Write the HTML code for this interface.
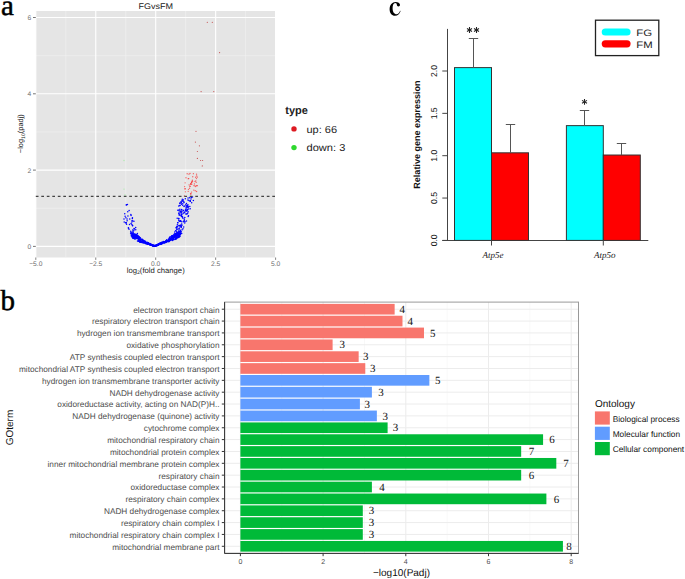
<!DOCTYPE html>
<html><head><meta charset="utf-8"><style>
html,body{margin:0;padding:0;background:#fff;}
body{width:685px;height:579px;overflow:hidden;}
svg{display:block;font-family:"Liberation Sans", sans-serif;text-rendering:geometricPrecision;}
</style></head><body>
<svg width="685" height="579" viewBox="0 0 685 579">
<rect x="35.8" y="11" width="239.8" height="246.5" fill="#E5E5E5"/>
<line x1="65.78" y1="11" x2="65.78" y2="257.5" stroke="#F2F2F2" stroke-width="0.6"/>
<line x1="125.73" y1="11" x2="125.73" y2="257.5" stroke="#F2F2F2" stroke-width="0.6"/>
<line x1="185.68" y1="11" x2="185.68" y2="257.5" stroke="#F2F2F2" stroke-width="0.6"/>
<line x1="245.62" y1="11" x2="245.62" y2="257.5" stroke="#F2F2F2" stroke-width="0.6"/>
<line x1="35.8" y1="208.25" x2="275.6" y2="208.25" stroke="#F2F2F2" stroke-width="0.6"/>
<line x1="35.8" y1="131.95" x2="275.6" y2="131.95" stroke="#F2F2F2" stroke-width="0.6"/>
<line x1="35.8" y1="55.65" x2="275.6" y2="55.65" stroke="#F2F2F2" stroke-width="0.6"/>
<line x1="35.8" y1="11" x2="35.8" y2="257.5" stroke="#FFFFFF" stroke-width="1.1"/>
<line x1="95.75" y1="11" x2="95.75" y2="257.5" stroke="#FFFFFF" stroke-width="1.1"/>
<line x1="155.7" y1="11" x2="155.7" y2="257.5" stroke="#FFFFFF" stroke-width="1.1"/>
<line x1="215.65" y1="11" x2="215.65" y2="257.5" stroke="#FFFFFF" stroke-width="1.1"/>
<line x1="275.6" y1="11" x2="275.6" y2="257.5" stroke="#FFFFFF" stroke-width="1.1"/>
<line x1="35.8" y1="246.4" x2="275.6" y2="246.4" stroke="#FFFFFF" stroke-width="1.1"/>
<line x1="35.8" y1="170.1" x2="275.6" y2="170.1" stroke="#FFFFFF" stroke-width="1.1"/>
<line x1="35.8" y1="93.8" x2="275.6" y2="93.8" stroke="#FFFFFF" stroke-width="1.1"/>
<line x1="35.8" y1="17.5" x2="275.6" y2="17.5" stroke="#FFFFFF" stroke-width="1.1"/>
<g fill="#0000FF"><circle cx="150.53" cy="244.97" r="0.75"/><circle cx="146.28" cy="243.77" r="0.75"/><circle cx="147.92" cy="243.79" r="0.75"/><circle cx="154.07" cy="245.73" r="0.75"/><circle cx="154.3" cy="245.89" r="0.75"/><circle cx="153.78" cy="246.06" r="0.75"/><circle cx="149.57" cy="243.65" r="0.75"/><circle cx="153.13" cy="245.72" r="0.75"/><circle cx="147.09" cy="242.46" r="0.75"/><circle cx="147.41" cy="243.56" r="0.75"/><circle cx="142.07" cy="242.53" r="0.75"/><circle cx="143.76" cy="242.54" r="0.75"/><circle cx="152.83" cy="245.74" r="0.75"/><circle cx="151.02" cy="244.23" r="0.75"/><circle cx="152.54" cy="245.1" r="0.75"/><circle cx="146.61" cy="243.33" r="0.75"/><circle cx="147.61" cy="244.2" r="0.75"/><circle cx="153.95" cy="246" r="0.75"/><circle cx="146.12" cy="243.06" r="0.75"/><circle cx="150.85" cy="244.48" r="0.75"/><circle cx="148.95" cy="244.24" r="0.75"/><circle cx="144.84" cy="242.06" r="0.75"/><circle cx="151.73" cy="244.82" r="0.75"/><circle cx="148.33" cy="243.08" r="0.75"/><circle cx="145.41" cy="243.09" r="0.75"/><circle cx="142.07" cy="242.37" r="0.75"/><circle cx="149.61" cy="243.77" r="0.75"/><circle cx="152.87" cy="245.33" r="0.75"/><circle cx="154.35" cy="245.68" r="0.75"/><circle cx="145.14" cy="242.43" r="0.75"/><circle cx="143.55" cy="242.42" r="0.75"/><circle cx="146.03" cy="242.71" r="0.75"/><circle cx="147.41" cy="243.46" r="0.75"/><circle cx="144.43" cy="241.39" r="0.75"/><circle cx="148.86" cy="243.63" r="0.75"/><circle cx="154.09" cy="245.54" r="0.75"/><circle cx="146.87" cy="242.28" r="0.75"/><circle cx="144.22" cy="242.7" r="0.75"/><circle cx="149.98" cy="244.04" r="0.75"/><circle cx="154.5" cy="245.93" r="0.75"/><circle cx="152.52" cy="245.64" r="0.75"/><circle cx="154.14" cy="245.49" r="0.75"/><circle cx="153.07" cy="245.67" r="0.75"/><circle cx="150.01" cy="243.75" r="0.75"/><circle cx="153.76" cy="245.68" r="0.75"/><circle cx="148.03" cy="242.95" r="0.75"/><circle cx="144.63" cy="241.64" r="0.75"/><circle cx="151.23" cy="244.85" r="0.75"/><circle cx="150.42" cy="243.9" r="0.75"/><circle cx="142.39" cy="242.4" r="0.75"/><circle cx="152.46" cy="245.49" r="0.75"/><circle cx="151.83" cy="244.97" r="0.75"/><circle cx="147.19" cy="243.72" r="0.75"/><circle cx="154.72" cy="246.05" r="0.75"/><circle cx="150.14" cy="244.25" r="0.75"/><circle cx="142.83" cy="241.33" r="0.75"/><circle cx="148.31" cy="243.51" r="0.75"/><circle cx="145.95" cy="243.7" r="0.75"/><circle cx="143.57" cy="241.41" r="0.75"/><circle cx="143.9" cy="241.49" r="0.75"/><circle cx="149.77" cy="244.37" r="0.75"/><circle cx="153.53" cy="245.41" r="0.75"/><circle cx="153.87" cy="246.11" r="0.75"/><circle cx="152.02" cy="245.43" r="0.75"/><circle cx="150.28" cy="245.03" r="0.75"/><circle cx="154.69" cy="246.29" r="0.75"/><circle cx="153.47" cy="245.67" r="0.75"/><circle cx="154.59" cy="245.56" r="0.75"/><circle cx="146.8" cy="243.8" r="0.75"/><circle cx="151.53" cy="245.04" r="0.75"/><circle cx="150" cy="244.84" r="0.75"/><circle cx="144.35" cy="241.25" r="0.75"/><circle cx="148.87" cy="243.93" r="0.75"/><circle cx="153.58" cy="245.99" r="0.75"/><circle cx="150.34" cy="244.75" r="0.75"/><circle cx="144.05" cy="242.9" r="0.75"/><circle cx="154.64" cy="245.51" r="0.75"/><circle cx="147.9" cy="244.15" r="0.75"/><circle cx="147.65" cy="244.27" r="0.75"/><circle cx="148.35" cy="242.91" r="0.75"/><circle cx="143.97" cy="241.74" r="0.75"/><circle cx="151.43" cy="244.98" r="0.75"/><circle cx="152.78" cy="244.97" r="0.75"/><circle cx="148.18" cy="243.19" r="0.75"/><circle cx="150.49" cy="244.86" r="0.75"/><circle cx="144.81" cy="241.46" r="0.75"/><circle cx="144.18" cy="241.58" r="0.75"/><circle cx="144.56" cy="241.87" r="0.75"/><circle cx="151.93" cy="244.96" r="0.75"/><circle cx="150.07" cy="245" r="0.75"/><circle cx="154.38" cy="246.06" r="0.75"/><circle cx="151.59" cy="244.61" r="0.75"/><circle cx="142.61" cy="241.8" r="0.75"/><circle cx="143.24" cy="240.81" r="0.75"/><circle cx="142.57" cy="241.98" r="0.75"/><circle cx="151.89" cy="245.31" r="0.75"/><circle cx="152.19" cy="245.43" r="0.75"/><circle cx="147.1" cy="242.55" r="0.75"/><circle cx="144.11" cy="242.26" r="0.75"/><circle cx="146.68" cy="242.57" r="0.75"/><circle cx="153.78" cy="245.47" r="0.75"/><circle cx="143.44" cy="241.35" r="0.75"/><circle cx="145.26" cy="242.66" r="0.75"/><circle cx="152.64" cy="244.89" r="0.75"/><circle cx="150.71" cy="244.13" r="0.75"/><circle cx="142.38" cy="241.84" r="0.75"/><circle cx="149.91" cy="243.6" r="0.75"/><circle cx="145.39" cy="243.31" r="0.75"/><circle cx="153.06" cy="245.77" r="0.75"/><circle cx="143.52" cy="241.33" r="0.75"/><circle cx="153.06" cy="245.01" r="0.75"/><circle cx="142.46" cy="241.27" r="0.75"/><circle cx="150.37" cy="244.36" r="0.75"/><circle cx="152.97" cy="245.89" r="0.75"/><circle cx="142.58" cy="241.33" r="0.75"/><circle cx="148.34" cy="242.99" r="0.75"/><circle cx="149.47" cy="243.54" r="0.75"/><circle cx="144.12" cy="242.82" r="0.75"/><circle cx="151.52" cy="245.1" r="0.75"/><circle cx="151.78" cy="244.82" r="0.75"/><circle cx="135.04" cy="237.22" r="0.75"/><circle cx="136.44" cy="237.6" r="0.75"/><circle cx="139.83" cy="241.88" r="0.75"/><circle cx="138.62" cy="238.31" r="0.75"/><circle cx="133.75" cy="237.75" r="0.75"/><circle cx="136.02" cy="238.18" r="0.75"/><circle cx="139.42" cy="240.73" r="0.75"/><circle cx="134.88" cy="235.86" r="0.75"/><circle cx="139.51" cy="240.5" r="0.75"/><circle cx="140.27" cy="238.05" r="0.75"/><circle cx="138.78" cy="239.85" r="0.75"/><circle cx="137.89" cy="238.32" r="0.75"/><circle cx="141.55" cy="241.61" r="0.75"/><circle cx="133" cy="237.44" r="0.75"/><circle cx="132.27" cy="235.51" r="0.75"/><circle cx="142.8" cy="241.81" r="0.75"/><circle cx="137.09" cy="237.88" r="0.75"/><circle cx="133.59" cy="237.34" r="0.75"/><circle cx="138.83" cy="236.46" r="0.75"/><circle cx="134.1" cy="236.26" r="0.75"/><circle cx="139.4" cy="237.43" r="0.75"/><circle cx="140.43" cy="238.12" r="0.75"/><circle cx="142.87" cy="242.53" r="0.75"/><circle cx="132.75" cy="235.75" r="0.75"/><circle cx="135.2" cy="234.44" r="0.75"/><circle cx="139.64" cy="239.92" r="0.75"/><circle cx="132.52" cy="233.75" r="0.75"/><circle cx="140.59" cy="240.9" r="0.75"/><circle cx="137.92" cy="236.46" r="0.75"/><circle cx="135.16" cy="234.44" r="0.75"/><circle cx="132.82" cy="234.75" r="0.75"/><circle cx="131.95" cy="235.14" r="0.75"/><circle cx="135.82" cy="236.13" r="0.75"/><circle cx="134" cy="237.76" r="0.75"/><circle cx="138.53" cy="241.21" r="0.75"/><circle cx="137.02" cy="238.06" r="0.75"/><circle cx="141.66" cy="239.31" r="0.75"/><circle cx="137.19" cy="236.54" r="0.75"/><circle cx="132" cy="234.45" r="0.75"/><circle cx="134.98" cy="234.77" r="0.75"/><circle cx="135.37" cy="235.53" r="0.75"/><circle cx="135.54" cy="237.61" r="0.75"/><circle cx="133.53" cy="237.48" r="0.75"/><circle cx="135.78" cy="236.62" r="0.75"/><circle cx="138.22" cy="238.03" r="0.75"/><circle cx="134.17" cy="238.05" r="0.75"/><circle cx="131.27" cy="235.74" r="0.75"/><circle cx="132.53" cy="237.04" r="0.75"/><circle cx="131.82" cy="233.42" r="0.75"/><circle cx="135.7" cy="235.43" r="0.75"/><circle cx="139.87" cy="238.28" r="0.75"/><circle cx="142.31" cy="239.51" r="0.75"/><circle cx="141.8" cy="241.64" r="0.75"/><circle cx="136.96" cy="236.33" r="0.75"/><circle cx="141.92" cy="239.37" r="0.75"/><circle cx="142.06" cy="241" r="0.75"/><circle cx="133.26" cy="238.23" r="0.75"/><circle cx="138.66" cy="241.22" r="0.75"/><circle cx="143.11" cy="241.13" r="0.75"/><circle cx="139.84" cy="241.77" r="0.75"/><circle cx="141.31" cy="239.86" r="0.75"/><circle cx="133.17" cy="236.66" r="0.75"/><circle cx="139.47" cy="239.23" r="0.75"/><circle cx="140.47" cy="239.73" r="0.75"/><circle cx="143.01" cy="240.38" r="0.75"/><circle cx="138.64" cy="238.34" r="0.75"/><circle cx="132.3" cy="235.75" r="0.75"/><circle cx="142.15" cy="242.57" r="0.75"/><circle cx="138.51" cy="236.87" r="0.75"/><circle cx="138.29" cy="239.76" r="0.75"/><circle cx="133.38" cy="235.64" r="0.75"/><circle cx="132.1" cy="235.78" r="0.75"/><circle cx="141.15" cy="239.84" r="0.75"/><circle cx="138.84" cy="237.66" r="0.75"/><circle cx="137.85" cy="235.78" r="0.75"/><circle cx="134.32" cy="238.78" r="0.75"/><circle cx="133.3" cy="238.23" r="0.75"/><circle cx="137.87" cy="236.1" r="0.75"/><circle cx="133.28" cy="236.5" r="0.75"/><circle cx="136.71" cy="236.97" r="0.75"/><circle cx="136.54" cy="237.31" r="0.75"/><circle cx="134.89" cy="235.75" r="0.75"/><circle cx="144.29" cy="240.99" r="0.75"/><circle cx="140.54" cy="241.97" r="0.75"/><circle cx="138.19" cy="236.5" r="0.75"/><circle cx="139.45" cy="236.99" r="0.75"/><circle cx="133.68" cy="234.75" r="0.75"/><circle cx="134.05" cy="234.07" r="0.75"/><circle cx="134.74" cy="235.68" r="0.75"/><circle cx="139.63" cy="241.72" r="0.75"/><circle cx="137.33" cy="238.23" r="0.75"/><circle cx="136.78" cy="236.45" r="0.75"/><circle cx="132.12" cy="235.86" r="0.75"/><circle cx="138.65" cy="239.24" r="0.75"/><circle cx="135.21" cy="235.59" r="0.75"/><circle cx="137.12" cy="237.48" r="0.75"/><circle cx="145.32" cy="241.35" r="0.75"/><circle cx="143.42" cy="241.41" r="0.75"/><circle cx="132.81" cy="234.68" r="0.75"/><circle cx="138.93" cy="239.75" r="0.75"/><circle cx="140.78" cy="240.54" r="0.75"/><circle cx="137.97" cy="238.49" r="0.75"/><circle cx="133.09" cy="235.62" r="0.75"/><circle cx="140.62" cy="239.91" r="0.75"/><circle cx="132.86" cy="233.88" r="0.75"/><circle cx="138.96" cy="238.8" r="0.75"/><circle cx="136.94" cy="235.35" r="0.75"/><circle cx="135.66" cy="237.62" r="0.75"/><circle cx="134.67" cy="235.57" r="0.75"/><circle cx="138.57" cy="239.67" r="0.75"/><circle cx="137.42" cy="235.67" r="0.75"/><circle cx="141.08" cy="242.08" r="0.75"/><circle cx="136.2" cy="237.24" r="0.75"/><circle cx="143" cy="240.3" r="0.75"/><circle cx="134.51" cy="237.2" r="0.75"/><circle cx="141.05" cy="242.31" r="0.75"/><circle cx="133.37" cy="236.98" r="0.75"/><circle cx="133.3" cy="233.7" r="0.75"/><circle cx="132.09" cy="236.98" r="0.75"/><circle cx="144.49" cy="241.68" r="0.75"/><circle cx="136.73" cy="236.38" r="0.75"/><circle cx="135.34" cy="236.57" r="0.75"/><circle cx="134.06" cy="236.7" r="0.75"/><circle cx="131.72" cy="233.8" r="0.75"/><circle cx="142.26" cy="241.83" r="0.75"/><circle cx="136.22" cy="235.81" r="0.75"/><circle cx="135.88" cy="235.85" r="0.75"/><circle cx="134.66" cy="237.76" r="0.75"/><circle cx="136.92" cy="235.61" r="0.75"/><circle cx="137.56" cy="237.94" r="0.75"/><circle cx="143.08" cy="240.29" r="0.75"/><circle cx="143.38" cy="240.62" r="0.75"/><circle cx="135.93" cy="236.67" r="0.75"/><circle cx="134.67" cy="237.2" r="0.75"/><circle cx="140.38" cy="239.67" r="0.75"/><circle cx="142.27" cy="241.33" r="0.75"/><circle cx="134.86" cy="235.56" r="0.75"/><circle cx="138.23" cy="241.06" r="0.75"/><circle cx="143.64" cy="241.98" r="0.75"/><circle cx="131.8" cy="236.02" r="0.75"/><circle cx="132.96" cy="235.02" r="0.75"/><circle cx="140.02" cy="239.15" r="0.75"/><circle cx="134.42" cy="236.74" r="0.75"/><circle cx="133.29" cy="235.16" r="0.75"/><circle cx="134.97" cy="238.95" r="0.75"/><circle cx="135.82" cy="235.15" r="0.75"/><circle cx="132.14" cy="234.17" r="0.75"/><circle cx="137.05" cy="238.48" r="0.75"/><circle cx="137.26" cy="235.92" r="0.75"/><circle cx="135.82" cy="238.64" r="0.75"/><circle cx="136.49" cy="237.2" r="0.75"/><circle cx="136.58" cy="235.09" r="0.75"/><circle cx="137.47" cy="241.08" r="0.75"/><circle cx="140.68" cy="241.93" r="0.75"/><circle cx="136.69" cy="238.04" r="0.75"/><circle cx="133.36" cy="235.92" r="0.75"/><circle cx="132.81" cy="237.91" r="0.75"/><circle cx="143.11" cy="242.48" r="0.75"/><circle cx="134.12" cy="234.42" r="0.75"/><circle cx="134.43" cy="237.04" r="0.75"/><circle cx="130.86" cy="214.62" r="0.75"/><circle cx="132.07" cy="220.53" r="0.75"/><circle cx="129.5" cy="224.39" r="0.75"/><circle cx="132.36" cy="218.38" r="0.75"/><circle cx="134.5" cy="228.69" r="0.75"/><circle cx="125.86" cy="217.8" r="0.75"/><circle cx="125.1" cy="216.29" r="0.75"/><circle cx="129.74" cy="219.11" r="0.75"/><circle cx="134.06" cy="228.61" r="0.75"/><circle cx="124" cy="218.89" r="0.75"/><circle cx="134.03" cy="229.93" r="0.75"/><circle cx="137.36" cy="233.52" r="0.75"/><circle cx="134.87" cy="234.04" r="0.75"/><circle cx="128.39" cy="227.84" r="0.75"/><circle cx="130.63" cy="233.66" r="0.75"/><circle cx="127.09" cy="218.96" r="0.75"/><circle cx="133.26" cy="232.79" r="0.75"/><circle cx="131.05" cy="223.59" r="0.75"/><circle cx="131.78" cy="232.33" r="0.75"/><circle cx="129.03" cy="229.32" r="0.75"/><circle cx="128.53" cy="228.14" r="0.75"/><circle cx="131.87" cy="224.56" r="0.75"/><circle cx="125.41" cy="222.87" r="0.75"/><circle cx="130.79" cy="232.79" r="0.75"/><circle cx="126.56" cy="224.19" r="0.75"/><circle cx="124.77" cy="213.68" r="0.75"/><circle cx="131.84" cy="221.91" r="0.75"/><circle cx="132.43" cy="217.86" r="0.75"/><circle cx="132.65" cy="231.93" r="0.75"/><circle cx="129.15" cy="210.38" r="0.75"/><circle cx="132.75" cy="220.96" r="0.75"/><circle cx="131.07" cy="215.41" r="0.75"/><circle cx="126.15" cy="222.59" r="0.75"/><circle cx="132.7" cy="229.88" r="0.75"/><circle cx="127.78" cy="211.66" r="0.75"/><circle cx="135.7" cy="227.45" r="0.75"/><circle cx="126.54" cy="204.74" r="0.75"/><circle cx="133.49" cy="231.01" r="0.75"/><circle cx="127.14" cy="220.66" r="0.75"/><circle cx="132.53" cy="225.6" r="0.75"/><circle cx="133.92" cy="221.25" r="0.75"/><circle cx="126.34" cy="223.1" r="0.75"/><circle cx="132.58" cy="225.74" r="0.75"/><circle cx="124.17" cy="221.96" r="0.75"/><circle cx="136.73" cy="234.52" r="0.75"/><circle cx="126.24" cy="204.97" r="0.75"/><circle cx="135.75" cy="229.83" r="0.75"/><circle cx="127.45" cy="204.55" r="0.75"/><circle cx="127.92" cy="216.04" r="0.75"/><circle cx="130.66" cy="231.22" r="0.75"/><circle cx="155.2" cy="245.75" r="0.75"/><circle cx="161.02" cy="243.88" r="0.75"/><circle cx="159.72" cy="244.28" r="0.75"/><circle cx="162.11" cy="242.52" r="0.75"/><circle cx="166.47" cy="240.32" r="0.75"/><circle cx="165.95" cy="240.73" r="0.75"/><circle cx="154.72" cy="245.75" r="0.75"/><circle cx="165.74" cy="242.49" r="0.75"/><circle cx="154.86" cy="245.97" r="0.75"/><circle cx="161.8" cy="243.62" r="0.75"/><circle cx="157.36" cy="244.94" r="0.75"/><circle cx="159.79" cy="244.43" r="0.75"/><circle cx="158.63" cy="245.02" r="0.75"/><circle cx="158.61" cy="244.05" r="0.75"/><circle cx="164.52" cy="242.01" r="0.75"/><circle cx="156.38" cy="245.5" r="0.75"/><circle cx="156.03" cy="245.8" r="0.75"/><circle cx="164.69" cy="242.5" r="0.75"/><circle cx="163.43" cy="242.19" r="0.75"/><circle cx="160.32" cy="243.58" r="0.75"/><circle cx="166.85" cy="240.14" r="0.75"/><circle cx="166.78" cy="240.03" r="0.75"/><circle cx="157.56" cy="244.57" r="0.75"/><circle cx="167.33" cy="240.87" r="0.75"/><circle cx="160.27" cy="244.33" r="0.75"/><circle cx="158.03" cy="244.63" r="0.75"/><circle cx="162.34" cy="243.34" r="0.75"/><circle cx="165.37" cy="241.96" r="0.75"/><circle cx="159.56" cy="243.8" r="0.75"/><circle cx="157.1" cy="245.46" r="0.75"/><circle cx="164.16" cy="242.62" r="0.75"/><circle cx="157.13" cy="244.97" r="0.75"/><circle cx="165.61" cy="241.73" r="0.75"/><circle cx="156.54" cy="245.24" r="0.75"/><circle cx="166.9" cy="240.46" r="0.75"/><circle cx="157.38" cy="244.7" r="0.75"/><circle cx="164.81" cy="242.57" r="0.75"/><circle cx="156.81" cy="244.77" r="0.75"/><circle cx="158.16" cy="244.4" r="0.75"/><circle cx="161.86" cy="242.53" r="0.75"/><circle cx="159.21" cy="243.75" r="0.75"/><circle cx="168.54" cy="240.9" r="0.75"/><circle cx="156.39" cy="245.85" r="0.75"/><circle cx="156.17" cy="245.31" r="0.75"/><circle cx="168.72" cy="240.99" r="0.75"/><circle cx="164.95" cy="241.71" r="0.75"/><circle cx="157.59" cy="245.03" r="0.75"/><circle cx="156.17" cy="245.11" r="0.75"/><circle cx="159.95" cy="243.19" r="0.75"/><circle cx="160.5" cy="244.1" r="0.75"/><circle cx="164.44" cy="242.05" r="0.75"/><circle cx="163.57" cy="242.34" r="0.75"/><circle cx="156.81" cy="245.29" r="0.75"/><circle cx="160.55" cy="244.01" r="0.75"/><circle cx="167.37" cy="240.69" r="0.75"/><circle cx="162.93" cy="243.11" r="0.75"/><circle cx="160.51" cy="243.24" r="0.75"/><circle cx="165.1" cy="242.53" r="0.75"/><circle cx="165.7" cy="241.94" r="0.75"/><circle cx="166.79" cy="241.47" r="0.75"/><circle cx="163.69" cy="242.27" r="0.75"/><circle cx="159.21" cy="244.37" r="0.75"/><circle cx="156.13" cy="245.37" r="0.75"/><circle cx="165.83" cy="241.92" r="0.75"/><circle cx="163.39" cy="242.02" r="0.75"/><circle cx="160.66" cy="243.53" r="0.75"/><circle cx="163.38" cy="242.31" r="0.75"/><circle cx="164.48" cy="242.86" r="0.75"/><circle cx="157.41" cy="245.12" r="0.75"/><circle cx="165.54" cy="241.37" r="0.75"/><circle cx="161.88" cy="243.88" r="0.75"/><circle cx="155.35" cy="245.82" r="0.75"/><circle cx="157.15" cy="245.37" r="0.75"/><circle cx="167.89" cy="240.68" r="0.75"/><circle cx="156.23" cy="245.49" r="0.75"/><circle cx="162.45" cy="243.24" r="0.75"/><circle cx="162" cy="243.28" r="0.75"/><circle cx="166.34" cy="241.31" r="0.75"/><circle cx="160.75" cy="244.25" r="0.75"/><circle cx="157.8" cy="245" r="0.75"/><circle cx="160.4" cy="244.1" r="0.75"/><circle cx="156.69" cy="245.77" r="0.75"/><circle cx="159.51" cy="243.42" r="0.75"/><circle cx="158.57" cy="244.32" r="0.75"/><circle cx="154.96" cy="245.86" r="0.75"/><circle cx="160.75" cy="243.87" r="0.75"/><circle cx="159.57" cy="243.7" r="0.75"/><circle cx="158.03" cy="244.98" r="0.75"/><circle cx="167.89" cy="240.7" r="0.75"/><circle cx="157.98" cy="245.08" r="0.75"/><circle cx="160.1" cy="243.39" r="0.75"/><circle cx="156.71" cy="245.53" r="0.75"/><circle cx="166.15" cy="241.63" r="0.75"/><circle cx="161.36" cy="243.41" r="0.75"/><circle cx="158.15" cy="245.22" r="0.75"/><circle cx="159.78" cy="244.16" r="0.75"/><circle cx="166.42" cy="241.91" r="0.75"/><circle cx="161.19" cy="243.05" r="0.75"/><circle cx="162.19" cy="242.32" r="0.75"/><circle cx="166.28" cy="240.98" r="0.75"/><circle cx="166.45" cy="240.72" r="0.75"/><circle cx="159.9" cy="243.54" r="0.75"/><circle cx="160.55" cy="243.15" r="0.75"/><circle cx="154.91" cy="246.17" r="0.75"/><circle cx="158.59" cy="244.1" r="0.75"/><circle cx="158.99" cy="244.26" r="0.75"/><circle cx="160.83" cy="243.74" r="0.75"/><circle cx="163.87" cy="242.02" r="0.75"/><circle cx="167.99" cy="241.4" r="0.75"/><circle cx="155.71" cy="245.96" r="0.75"/><circle cx="167.61" cy="241.38" r="0.75"/><circle cx="156.89" cy="245.53" r="0.75"/><circle cx="163.29" cy="241.62" r="0.75"/><circle cx="155.11" cy="246.31" r="0.75"/><circle cx="163.75" cy="241.86" r="0.75"/><circle cx="156.07" cy="245.09" r="0.75"/><circle cx="158.17" cy="244.97" r="0.75"/><circle cx="159.44" cy="243.6" r="0.75"/><circle cx="167.6" cy="241.41" r="0.75"/><circle cx="157.3" cy="245.44" r="0.75"/><circle cx="163.44" cy="242.97" r="0.75"/><circle cx="164.35" cy="242.83" r="0.75"/><circle cx="166" cy="242.11" r="0.75"/><circle cx="157.63" cy="245.08" r="0.75"/><circle cx="162.32" cy="243.33" r="0.75"/><circle cx="161.11" cy="244.02" r="0.75"/><circle cx="162.37" cy="242.48" r="0.75"/><circle cx="157.89" cy="244.27" r="0.75"/><circle cx="161.4" cy="242.56" r="0.75"/><circle cx="161.09" cy="242.85" r="0.75"/><circle cx="174.39" cy="236.48" r="0.75"/><circle cx="168.09" cy="240.25" r="0.75"/><circle cx="174.08" cy="237.19" r="0.75"/><circle cx="172.87" cy="235.61" r="0.75"/><circle cx="180.49" cy="231.83" r="0.75"/><circle cx="176.28" cy="238" r="0.75"/><circle cx="174.64" cy="236.33" r="0.75"/><circle cx="179.67" cy="231.37" r="0.75"/><circle cx="177.34" cy="237.88" r="0.75"/><circle cx="172.4" cy="240.48" r="0.75"/><circle cx="172.76" cy="236.22" r="0.75"/><circle cx="174.83" cy="239.48" r="0.75"/><circle cx="173.49" cy="237.09" r="0.75"/><circle cx="178.75" cy="234.22" r="0.75"/><circle cx="178.76" cy="235.44" r="0.75"/><circle cx="174.55" cy="233.99" r="0.75"/><circle cx="171.89" cy="237.45" r="0.75"/><circle cx="168.52" cy="238.95" r="0.75"/><circle cx="176.02" cy="237.89" r="0.75"/><circle cx="177.05" cy="237.56" r="0.75"/><circle cx="176.85" cy="233.34" r="0.75"/><circle cx="176.67" cy="236.04" r="0.75"/><circle cx="177.91" cy="232.11" r="0.75"/><circle cx="176.52" cy="235.06" r="0.75"/><circle cx="175.31" cy="233.84" r="0.75"/><circle cx="171.93" cy="235.64" r="0.75"/><circle cx="172.14" cy="235.74" r="0.75"/><circle cx="178.53" cy="237.33" r="0.75"/><circle cx="179.94" cy="235.91" r="0.75"/><circle cx="176.38" cy="233.34" r="0.75"/><circle cx="169.15" cy="240.57" r="0.75"/><circle cx="177.35" cy="233.66" r="0.75"/><circle cx="177.54" cy="233.06" r="0.75"/><circle cx="168.65" cy="239.51" r="0.75"/><circle cx="176.17" cy="238.8" r="0.75"/><circle cx="178.63" cy="231.88" r="0.75"/><circle cx="172.04" cy="239.02" r="0.75"/><circle cx="170.16" cy="240.47" r="0.75"/><circle cx="172.78" cy="237.32" r="0.75"/><circle cx="173.7" cy="238.45" r="0.75"/><circle cx="169.88" cy="239.77" r="0.75"/><circle cx="172.72" cy="238.09" r="0.75"/><circle cx="176.19" cy="235.6" r="0.75"/><circle cx="173.01" cy="239.65" r="0.75"/><circle cx="175.37" cy="234.22" r="0.75"/><circle cx="168.79" cy="241.71" r="0.75"/><circle cx="172.32" cy="237.66" r="0.75"/><circle cx="175.81" cy="234.39" r="0.75"/><circle cx="172.9" cy="238.53" r="0.75"/><circle cx="178.5" cy="234.12" r="0.75"/><circle cx="173.49" cy="237.45" r="0.75"/><circle cx="168.55" cy="240.17" r="0.75"/><circle cx="175.43" cy="234.01" r="0.75"/><circle cx="170.61" cy="239.25" r="0.75"/><circle cx="180.11" cy="233.57" r="0.75"/><circle cx="175.89" cy="238.45" r="0.75"/><circle cx="171.31" cy="239.26" r="0.75"/><circle cx="178.29" cy="236.06" r="0.75"/><circle cx="169.14" cy="239.87" r="0.75"/><circle cx="178.04" cy="233.56" r="0.75"/><circle cx="179.51" cy="236.74" r="0.75"/><circle cx="174.2" cy="237.48" r="0.75"/><circle cx="170.35" cy="238.71" r="0.75"/><circle cx="172.72" cy="237.21" r="0.75"/><circle cx="173.23" cy="236.69" r="0.75"/><circle cx="169.38" cy="237.96" r="0.75"/><circle cx="178.24" cy="232.72" r="0.75"/><circle cx="175.76" cy="234.79" r="0.75"/><circle cx="179.26" cy="236.35" r="0.75"/><circle cx="175.37" cy="233.88" r="0.75"/><circle cx="178.13" cy="235.69" r="0.75"/><circle cx="179.83" cy="231.71" r="0.75"/><circle cx="175.77" cy="235.37" r="0.75"/><circle cx="171.34" cy="237.21" r="0.75"/><circle cx="176.71" cy="235.32" r="0.75"/><circle cx="176.8" cy="234.29" r="0.75"/><circle cx="175.69" cy="239.34" r="0.75"/><circle cx="177.32" cy="233.15" r="0.75"/><circle cx="168.47" cy="241.2" r="0.75"/><circle cx="169.26" cy="241.22" r="0.75"/><circle cx="173.88" cy="234.74" r="0.75"/><circle cx="178.7" cy="236.25" r="0.75"/><circle cx="177.28" cy="237.09" r="0.75"/><circle cx="169.88" cy="240.58" r="0.75"/><circle cx="178.91" cy="234.68" r="0.75"/><circle cx="168.74" cy="240.85" r="0.75"/><circle cx="176.69" cy="233.32" r="0.75"/><circle cx="174.21" cy="234.15" r="0.75"/><circle cx="179.65" cy="231.63" r="0.75"/><circle cx="177.44" cy="234.23" r="0.75"/><circle cx="178.49" cy="234.75" r="0.75"/><circle cx="178.82" cy="236.79" r="0.75"/><circle cx="179.86" cy="233.4" r="0.75"/><circle cx="170.34" cy="239.47" r="0.75"/><circle cx="177.25" cy="233.16" r="0.75"/><circle cx="175.91" cy="236.45" r="0.75"/><circle cx="175.96" cy="238.79" r="0.75"/><circle cx="178.55" cy="237.41" r="0.75"/><circle cx="177.53" cy="235.49" r="0.75"/><circle cx="178.54" cy="234.69" r="0.75"/><circle cx="179.83" cy="236.24" r="0.75"/><circle cx="179.34" cy="233.93" r="0.75"/><circle cx="170.42" cy="240.15" r="0.75"/><circle cx="172.83" cy="237.54" r="0.75"/><circle cx="173.79" cy="236.67" r="0.75"/><circle cx="169.57" cy="238.86" r="0.75"/><circle cx="172.17" cy="238.82" r="0.75"/><circle cx="172.96" cy="239.26" r="0.75"/><circle cx="168.8" cy="240.6" r="0.75"/><circle cx="174.67" cy="236.84" r="0.75"/><circle cx="180.58" cy="233.46" r="0.75"/><circle cx="171.26" cy="239.99" r="0.75"/><circle cx="177.09" cy="233.15" r="0.75"/><circle cx="175.49" cy="236.75" r="0.75"/><circle cx="174.42" cy="236.51" r="0.75"/><circle cx="169.91" cy="237.3" r="0.75"/><circle cx="177.71" cy="232.81" r="0.75"/><circle cx="173.05" cy="235.63" r="0.75"/><circle cx="178.92" cy="236.78" r="0.75"/><circle cx="178.1" cy="234.72" r="0.75"/><circle cx="176.22" cy="235.01" r="0.75"/><circle cx="173.63" cy="236.55" r="0.75"/><circle cx="179.5" cy="231.38" r="0.75"/><circle cx="176.34" cy="233.92" r="0.75"/><circle cx="176.82" cy="234.01" r="0.75"/><circle cx="176.08" cy="233.76" r="0.75"/><circle cx="174.76" cy="235.77" r="0.75"/><circle cx="180.36" cy="234.16" r="0.75"/><circle cx="171.97" cy="238.12" r="0.75"/><circle cx="169.56" cy="237.54" r="0.75"/><circle cx="171.49" cy="236.13" r="0.75"/><circle cx="175.41" cy="238.15" r="0.75"/><circle cx="170.62" cy="238.81" r="0.75"/><circle cx="173.99" cy="237.03" r="0.75"/><circle cx="175.97" cy="236.16" r="0.75"/><circle cx="170.88" cy="236.64" r="0.75"/><circle cx="172.98" cy="237.44" r="0.75"/><circle cx="179.2" cy="233.62" r="0.75"/><circle cx="175.24" cy="236.41" r="0.75"/><circle cx="171.84" cy="239.49" r="0.75"/><circle cx="179.33" cy="235.84" r="0.75"/><circle cx="173.72" cy="239.09" r="0.75"/><circle cx="172.58" cy="238.43" r="0.75"/><circle cx="178.68" cy="236.7" r="0.75"/><circle cx="177.88" cy="236.23" r="0.75"/><circle cx="179.89" cy="232.4" r="0.75"/><circle cx="177.95" cy="237.44" r="0.75"/><circle cx="175.44" cy="235.6" r="0.75"/><circle cx="175.9" cy="235.18" r="0.75"/><circle cx="173.88" cy="236.04" r="0.75"/><circle cx="177.4" cy="234.22" r="0.75"/><circle cx="173.08" cy="237.11" r="0.75"/><circle cx="174.49" cy="235.88" r="0.75"/><circle cx="169.88" cy="237.33" r="0.75"/><circle cx="179.96" cy="234.56" r="0.75"/><circle cx="180.46" cy="233.25" r="0.75"/><circle cx="175.34" cy="236.47" r="0.75"/><circle cx="174.73" cy="236.69" r="0.75"/><circle cx="176.91" cy="235.28" r="0.75"/><circle cx="172.65" cy="237.54" r="0.75"/><circle cx="176.79" cy="236.78" r="0.75"/><circle cx="173.21" cy="237.17" r="0.75"/><circle cx="173.72" cy="237.87" r="0.75"/><circle cx="179.55" cy="235.63" r="0.75"/><circle cx="174.65" cy="236.55" r="0.75"/><circle cx="176.19" cy="237.63" r="0.75"/><circle cx="173.35" cy="239.66" r="0.75"/><circle cx="171.99" cy="238.6" r="0.75"/><circle cx="176.69" cy="233.16" r="0.75"/><circle cx="174.47" cy="237.09" r="0.75"/><circle cx="179.55" cy="221.37" r="0.75"/><circle cx="182.31" cy="201.09" r="0.75"/><circle cx="188.93" cy="200.52" r="0.75"/><circle cx="181.22" cy="202.94" r="0.75"/><circle cx="176.39" cy="231.29" r="0.75"/><circle cx="181.13" cy="213.76" r="0.75"/><circle cx="175.54" cy="230.77" r="0.75"/><circle cx="186.28" cy="206.02" r="0.75"/><circle cx="180.48" cy="231.1" r="0.75"/><circle cx="183.7" cy="227" r="0.75"/><circle cx="177.8" cy="210.23" r="0.75"/><circle cx="181.83" cy="211.96" r="0.75"/><circle cx="176.84" cy="228.28" r="0.75"/><circle cx="179.89" cy="205.55" r="0.75"/><circle cx="187.12" cy="209.58" r="0.75"/><circle cx="187.91" cy="199.98" r="0.75"/><circle cx="190.37" cy="201.33" r="0.75"/><circle cx="181.66" cy="233.39" r="0.75"/><circle cx="178.82" cy="213.87" r="0.75"/><circle cx="185.66" cy="210.6" r="0.75"/><circle cx="181.81" cy="221.78" r="0.75"/><circle cx="180.4" cy="211.45" r="0.75"/><circle cx="177.86" cy="229.25" r="0.75"/><circle cx="181.37" cy="215.71" r="0.75"/><circle cx="188.12" cy="207.3" r="0.75"/><circle cx="187.11" cy="209.97" r="0.75"/><circle cx="179.22" cy="229.08" r="0.75"/><circle cx="186.45" cy="203.41" r="0.75"/><circle cx="188.04" cy="197.96" r="0.75"/><circle cx="180.26" cy="211.1" r="0.75"/><circle cx="180.41" cy="221.04" r="0.75"/><circle cx="188.12" cy="206.23" r="0.75"/><circle cx="187.5" cy="209.87" r="0.75"/><circle cx="176.61" cy="226.95" r="0.75"/><circle cx="181.98" cy="225.26" r="0.75"/><circle cx="186.43" cy="213.88" r="0.75"/><circle cx="187.77" cy="212.93" r="0.75"/><circle cx="189.81" cy="206.48" r="0.75"/><circle cx="184.83" cy="206.04" r="0.75"/><circle cx="181.3" cy="212.29" r="0.75"/><circle cx="187.24" cy="205.58" r="0.75"/><circle cx="177.2" cy="218.14" r="0.75"/><circle cx="190.29" cy="200.82" r="0.75"/><circle cx="181.35" cy="204.37" r="0.75"/><circle cx="183.01" cy="200.76" r="0.75"/><circle cx="183.4" cy="210.41" r="0.75"/><circle cx="182.75" cy="203.73" r="0.75"/><circle cx="174.66" cy="231.89" r="0.75"/><circle cx="186.9" cy="206.1" r="0.75"/><circle cx="177.7" cy="226.69" r="0.75"/><circle cx="188.6" cy="209.01" r="0.75"/><circle cx="190.18" cy="208.76" r="0.75"/><circle cx="183.99" cy="202.48" r="0.75"/><circle cx="184.28" cy="212.66" r="0.75"/><circle cx="191.68" cy="202.75" r="0.75"/><circle cx="182.92" cy="218.15" r="0.75"/><circle cx="186.07" cy="207.87" r="0.75"/><circle cx="186.8" cy="207.95" r="0.75"/><circle cx="191.32" cy="197.47" r="0.75"/><circle cx="187.39" cy="213.67" r="0.75"/><circle cx="187.05" cy="210.76" r="0.75"/><circle cx="182.41" cy="216.86" r="0.75"/><circle cx="182.03" cy="200.81" r="0.75"/><circle cx="176.63" cy="229.68" r="0.75"/><circle cx="179.28" cy="215.29" r="0.75"/><circle cx="178.8" cy="218.51" r="0.75"/><circle cx="184.25" cy="219.11" r="0.75"/><circle cx="182.25" cy="199.24" r="0.75"/><circle cx="177.1" cy="226.36" r="0.75"/><circle cx="179" cy="210.77" r="0.75"/><circle cx="185.79" cy="204.63" r="0.75"/><circle cx="180.99" cy="225.88" r="0.75"/><circle cx="190.19" cy="201.14" r="0.75"/><circle cx="187.33" cy="206.23" r="0.75"/><circle cx="182.99" cy="228.75" r="0.75"/><circle cx="176.6" cy="227.31" r="0.75"/><circle cx="184.73" cy="223.02" r="0.75"/><circle cx="192.53" cy="196.93" r="0.75"/><circle cx="189.71" cy="197.77" r="0.75"/><circle cx="181.96" cy="214.76" r="0.75"/><circle cx="178.61" cy="230.91" r="0.75"/><circle cx="181.36" cy="214.46" r="0.75"/><circle cx="181.87" cy="210.05" r="0.75"/><circle cx="185.5" cy="209.28" r="0.75"/><circle cx="187.25" cy="206.92" r="0.75"/><circle cx="184" cy="206.52" r="0.75"/><circle cx="186.53" cy="220.9" r="0.75"/><circle cx="179.85" cy="227.1" r="0.75"/><circle cx="180.28" cy="225.86" r="0.75"/><circle cx="184.17" cy="220.92" r="0.75"/><circle cx="184.96" cy="212.07" r="0.75"/><circle cx="183.65" cy="210.58" r="0.75"/><circle cx="178.96" cy="209.88" r="0.75"/><circle cx="183.11" cy="213.6" r="0.75"/><circle cx="180.25" cy="202.92" r="0.75"/><circle cx="180.97" cy="231.96" r="0.75"/><circle cx="181.28" cy="226.29" r="0.75"/><circle cx="191" cy="199.02" r="0.75"/><circle cx="187.88" cy="204.83" r="0.75"/><circle cx="176.01" cy="227.65" r="0.75"/><circle cx="180.98" cy="201.68" r="0.75"/><circle cx="180.86" cy="215.48" r="0.75"/><circle cx="179.38" cy="214.29" r="0.75"/><circle cx="182.54" cy="217.19" r="0.75"/><circle cx="185.04" cy="221.77" r="0.75"/><circle cx="180.79" cy="225.01" r="0.75"/><circle cx="183.54" cy="221.7" r="0.75"/><circle cx="178.84" cy="225.6" r="0.75"/><circle cx="181.45" cy="202.16" r="0.75"/><circle cx="183.98" cy="220.95" r="0.75"/><circle cx="180.65" cy="231.28" r="0.75"/><circle cx="182.14" cy="229.75" r="0.75"/><circle cx="178.76" cy="206.12" r="0.75"/><circle cx="182.74" cy="205.33" r="0.75"/><circle cx="178.62" cy="218.38" r="0.75"/><circle cx="179.58" cy="225.41" r="0.75"/><circle cx="179.87" cy="209.2" r="0.75"/><circle cx="185.85" cy="213.89" r="0.75"/><circle cx="181.35" cy="226.5" r="0.75"/><circle cx="177.37" cy="224.81" r="0.75"/><circle cx="177.71" cy="222.75" r="0.75"/><circle cx="180.95" cy="231.85" r="0.75"/><circle cx="178.9" cy="213.02" r="0.75"/><circle cx="180.51" cy="230.31" r="0.75"/><circle cx="183.76" cy="201.64" r="0.75"/><circle cx="177.9" cy="222.86" r="0.75"/><circle cx="188.53" cy="215.73" r="0.75"/><circle cx="179.69" cy="203.24" r="0.75"/><circle cx="184.17" cy="212.15" r="0.75"/><circle cx="184.84" cy="217.58" r="0.75"/><circle cx="188.14" cy="211.81" r="0.75"/><circle cx="181.85" cy="211.28" r="0.75"/><circle cx="186.11" cy="210.95" r="0.75"/><circle cx="180.66" cy="221.34" r="0.75"/><circle cx="180.5" cy="233.9" r="0.75"/><circle cx="178.95" cy="220.7" r="0.75"/><circle cx="181.7" cy="223.89" r="0.75"/><circle cx="184.5" cy="220.05" r="0.75"/><circle cx="180.62" cy="220.68" r="0.75"/><circle cx="178.74" cy="220.04" r="0.75"/><circle cx="188.21" cy="216.55" r="0.75"/><circle cx="181.28" cy="227.4" r="0.75"/><circle cx="183.1" cy="199.8" r="0.75"/><circle cx="181.47" cy="216.5" r="0.75"/><circle cx="181.54" cy="209.53" r="0.75"/><circle cx="185.34" cy="198.63" r="0.75"/><circle cx="188.15" cy="207" r="0.75"/><circle cx="179.09" cy="228.6" r="0.75"/><circle cx="186.24" cy="210.74" r="0.75"/><circle cx="180.11" cy="212.15" r="0.75"/><circle cx="193.4" cy="200.4" r="0.75"/><circle cx="179.9" cy="205.6" r="0.75"/></g>
<g fill="#FF0000" fill-opacity="0.6"><circle cx="195.81" cy="180.85" r="0.65"/><circle cx="189.77" cy="186.22" r="0.65"/><circle cx="197.43" cy="177.04" r="0.65"/><circle cx="189.59" cy="188.27" r="0.65"/><circle cx="188.98" cy="174.18" r="0.65"/><circle cx="195.04" cy="181.49" r="0.65"/><circle cx="191.77" cy="184.27" r="0.65"/><circle cx="184.66" cy="186.55" r="0.65"/><circle cx="190.87" cy="183.45" r="0.65"/><circle cx="196.22" cy="182.33" r="0.65"/><circle cx="191.03" cy="193.6" r="0.65"/><circle cx="190.55" cy="184.14" r="0.65"/><circle cx="191.57" cy="192.04" r="0.65"/><circle cx="193.82" cy="190.05" r="0.65"/><circle cx="190" cy="173.46" r="0.65"/><circle cx="193.95" cy="185.63" r="0.65"/><circle cx="195.22" cy="190.75" r="0.65"/><circle cx="185.98" cy="177.73" r="0.65"/><circle cx="185.4" cy="191.87" r="0.65"/><circle cx="195" cy="185.88" r="0.65"/><circle cx="185.08" cy="188.64" r="0.65"/><circle cx="194.4" cy="183.94" r="0.65"/><circle cx="185.08" cy="188.88" r="0.65"/><circle cx="190.23" cy="186.34" r="0.65"/><circle cx="196.68" cy="175.95" r="0.65"/><circle cx="189.05" cy="184.78" r="0.65"/><circle cx="184.39" cy="195.93" r="0.65"/><circle cx="188.2" cy="178.72" r="0.65"/><circle cx="188.75" cy="178.54" r="0.65"/><circle cx="196.5" cy="185.67" r="0.65"/><circle cx="191.56" cy="182.46" r="0.65"/><circle cx="196.61" cy="191.51" r="0.65"/><circle cx="196.46" cy="178.59" r="0.65"/><circle cx="187.17" cy="173.73" r="0.65"/><circle cx="191.92" cy="181.36" r="0.65"/><circle cx="190.89" cy="184.09" r="0.65"/><circle cx="192.59" cy="181.17" r="0.65"/><circle cx="195.68" cy="177.25" r="0.65"/><circle cx="197.36" cy="185.68" r="0.65"/><circle cx="191.87" cy="182.19" r="0.65"/><circle cx="192.32" cy="180.17" r="0.65"/><circle cx="188.18" cy="191.37" r="0.65"/><circle cx="188.44" cy="189.34" r="0.65"/><circle cx="195.69" cy="186.53" r="0.65"/><circle cx="190.76" cy="194.66" r="0.65"/><circle cx="190.62" cy="193.31" r="0.65"/><circle cx="185.12" cy="182.78" r="0.65"/><circle cx="193.38" cy="173.66" r="0.65"/><circle cx="196.55" cy="174.2" r="0.65"/><circle cx="192.77" cy="176.77" r="0.65"/></g>
<g fill="#C03030" fill-opacity="0.8"><circle cx="196" cy="131.3" r="0.6"/><circle cx="195.4" cy="142.1" r="0.6"/><circle cx="199.4" cy="145.8" r="0.6"/><circle cx="197.4" cy="151.5" r="0.6"/><circle cx="197.4" cy="158.4" r="0.6"/><circle cx="200.6" cy="160.5" r="0.6"/><circle cx="202.6" cy="160.5" r="0.6"/><circle cx="202.3" cy="165.9" r="0.6"/><circle cx="207.3" cy="22.3" r="0.6"/><circle cx="212.3" cy="22.3" r="0.6"/><circle cx="219.6" cy="52.6" r="0.6"/><circle cx="201.1" cy="91.6" r="0.6"/><circle cx="213.8" cy="91.6" r="0.6"/></g>
<g fill="#00FF00" fill-opacity="0.25"><circle cx="124" cy="160.5" r="0.7"/><circle cx="124" cy="189.1" r="0.7"/><circle cx="125" cy="195" r="0.7"/></g>
<line x1="35.8" y1="196.4" x2="275.6" y2="196.4" stroke="#444" stroke-width="1.1" stroke-dasharray="2.7 2.8"/>
<line x1="35.8" y1="257.5" x2="35.8" y2="259.9" stroke="#777" stroke-width="0.9"/>
<text x="35.8" y="266" font-size="6.7" fill="#6E6E6E" text-anchor="middle">−5.0</text>
<line x1="95.75" y1="257.5" x2="95.75" y2="259.9" stroke="#777" stroke-width="0.9"/>
<text x="95.75" y="266" font-size="6.7" fill="#6E6E6E" text-anchor="middle">−2.5</text>
<line x1="155.7" y1="257.5" x2="155.7" y2="259.9" stroke="#777" stroke-width="0.9"/>
<text x="155.7" y="266" font-size="6.7" fill="#6E6E6E" text-anchor="middle">0.0</text>
<line x1="215.65" y1="257.5" x2="215.65" y2="259.9" stroke="#777" stroke-width="0.9"/>
<text x="215.65" y="266" font-size="6.7" fill="#6E6E6E" text-anchor="middle">2.5</text>
<line x1="275.6" y1="257.5" x2="275.6" y2="259.9" stroke="#777" stroke-width="0.9"/>
<text x="275.6" y="266" font-size="6.7" fill="#6E6E6E" text-anchor="middle">5.0</text>
<line x1="33" y1="246.4" x2="35.8" y2="246.4" stroke="#666" stroke-width="0.9"/>
<text x="31.2" y="248.8" font-size="6.7" fill="#6E6E6E" text-anchor="end">0</text>
<line x1="33" y1="170.1" x2="35.8" y2="170.1" stroke="#666" stroke-width="0.9"/>
<text x="31.2" y="172.5" font-size="6.7" fill="#6E6E6E" text-anchor="end">2</text>
<line x1="33" y1="93.8" x2="35.8" y2="93.8" stroke="#666" stroke-width="0.9"/>
<text x="31.2" y="96.2" font-size="6.7" fill="#6E6E6E" text-anchor="end">4</text>
<line x1="33" y1="17.5" x2="35.8" y2="17.5" stroke="#666" stroke-width="0.9"/>
<text x="31.2" y="19.9" font-size="6.7" fill="#6E6E6E" text-anchor="end">6</text>
<text x="138.6" y="9.1" font-size="8.2" fill="#222" textLength="34.5" lengthAdjust="spacingAndGlyphs">FGvsFM</text>
<text x="155.7" y="272.8" font-size="7.7" fill="#222" text-anchor="middle">log<tspan font-size="5.2" dy="1.6">2</tspan><tspan dy="-1.6">(fold change)</tspan></text>
<text transform="translate(23.0 133.7) rotate(-90)" font-size="7.4" fill="#222" text-anchor="middle">−log<tspan font-size="5.2" dy="1.6">10</tspan><tspan dy="-1.6">(padj)</tspan></text>
<text x="285.3" y="113.8" font-size="11" font-weight="bold" fill="#222">type</text>
<circle cx="294" cy="128.9" r="2.7" fill="#DD1A22"/>
<circle cx="294" cy="147.6" r="2.7" fill="#2ED82E"/>
<text x="306.5" y="132.5" font-size="10.2" fill="#222" textLength="30.6" lengthAdjust="spacingAndGlyphs">up: 66</text>
<text x="306.5" y="151.2" font-size="10.2" fill="#222" textLength="38.8" lengthAdjust="spacingAndGlyphs">down: 3</text>
<line x1="447.5" y1="28.9" x2="447.5" y2="240.9" stroke="#444" stroke-width="1"/>
<line x1="442.3" y1="240.5" x2="648.3" y2="240.5" stroke="#444" stroke-width="1"/>
<line x1="442.3" y1="240.4" x2="447.5" y2="240.4" stroke="#444" stroke-width="1"/>
<text transform="translate(437.2 240.4) rotate(-90)" font-size="8.6" fill="#111" text-anchor="middle">0.0</text>
<line x1="442.3" y1="198.05" x2="447.5" y2="198.05" stroke="#444" stroke-width="1"/>
<text transform="translate(437.2 198.05) rotate(-90)" font-size="8.6" fill="#111" text-anchor="middle">0.5</text>
<line x1="442.3" y1="155.7" x2="447.5" y2="155.7" stroke="#444" stroke-width="1"/>
<text transform="translate(437.2 155.7) rotate(-90)" font-size="8.6" fill="#111" text-anchor="middle">1.0</text>
<line x1="442.3" y1="113.35" x2="447.5" y2="113.35" stroke="#444" stroke-width="1"/>
<text transform="translate(437.2 113.35) rotate(-90)" font-size="8.6" fill="#111" text-anchor="middle">1.5</text>
<line x1="442.3" y1="71" x2="447.5" y2="71" stroke="#444" stroke-width="1"/>
<text transform="translate(437.2 71) rotate(-90)" font-size="8.6" fill="#111" text-anchor="middle">2.0</text>
<rect x="454.5" y="67.61" width="37" height="172.79" fill="#00FFFF" stroke="#333" stroke-width="1"/>
<line x1="473.5" y1="67.61" x2="473.5" y2="38.5" stroke="#555" stroke-width="1"/>
<line x1="468.8" y1="38.5" x2="478.2" y2="38.5" stroke="#555" stroke-width="1"/>
<rect x="491.5" y="152.82" width="37" height="87.58" fill="#FF0000" stroke="#333" stroke-width="1"/>
<line x1="510.5" y1="152.82" x2="510.5" y2="124.5" stroke="#555" stroke-width="1"/>
<line x1="505.8" y1="124.5" x2="515.2" y2="124.5" stroke="#555" stroke-width="1"/>
<rect x="566.4" y="125.63" width="36.9" height="114.77" fill="#00FFFF" stroke="#333" stroke-width="1"/>
<line x1="584.5" y1="125.63" x2="584.5" y2="110.5" stroke="#555" stroke-width="1"/>
<line x1="579.8" y1="110.5" x2="589.2" y2="110.5" stroke="#555" stroke-width="1"/>
<rect x="603.3" y="155.02" width="37" height="85.38" fill="#FF0000" stroke="#333" stroke-width="1"/>
<line x1="621.5" y1="155.02" x2="621.5" y2="143.5" stroke="#555" stroke-width="1"/>
<line x1="616.8" y1="143.5" x2="626.2" y2="143.5" stroke="#555" stroke-width="1"/>
<path d="M469.5 27.1L469.5 32.9M466.99 28.55L472.01 31.45M472.01 28.55L466.99 31.45" stroke="#222" stroke-width="1.05"/>
<path d="M476.5 27.1L476.5 32.9M473.99 28.55L479.01 31.45M479.01 28.55L473.99 31.45" stroke="#222" stroke-width="1.05"/>
<path d="M584.5 98.9L584.5 104.7M581.99 100.35L587.01 103.25M587.01 100.35L581.99 103.25" stroke="#222" stroke-width="1.05"/>
<line x1="491.5" y1="240.5" x2="491.5" y2="245.5" stroke="#444" stroke-width="1"/>
<text x="493" y="257.5" font-size="9" font-style="italic" font-family='"Liberation Serif", serif' fill="#222" text-anchor="middle">Atp5e</text>
<line x1="603.3" y1="240.5" x2="603.3" y2="245.5" stroke="#444" stroke-width="1"/>
<text x="604.8" y="257.5" font-size="9" font-style="italic" font-family='"Liberation Serif", serif' fill="#222" text-anchor="middle">Atp5o</text>
<text transform="translate(419.8 134.6) rotate(-90)" font-size="9" font-weight="bold" fill="#111" text-anchor="middle">Relative gene expression</text>
<rect x="595.5" y="20.2" width="63.3" height="35.4" fill="#fff" stroke="#222" stroke-width="1.3"/>
<line x1="605.3" y1="32" x2="627" y2="32" stroke="#00FFFF" stroke-width="7.2" stroke-linecap="round"/>
<line x1="605.3" y1="43.85" x2="627" y2="43.85" stroke="#FF0000" stroke-width="7.2" stroke-linecap="round"/>
<text x="636.3" y="35.7" font-size="9.3" fill="#222" textLength="15.9" lengthAdjust="spacingAndGlyphs">FG</text>
<text x="636.3" y="47.6" font-size="9.3" fill="#222" textLength="16.4" lengthAdjust="spacingAndGlyphs">FM</text>
<rect x="224.6" y="302.1" width="353.9" height="251.3" fill="#fff"/>
<line x1="281.75" y1="302.1" x2="281.75" y2="553.4" stroke="#F4F4F4" stroke-width="0.6"/>
<line x1="364.45" y1="302.1" x2="364.45" y2="553.4" stroke="#F4F4F4" stroke-width="0.6"/>
<line x1="447.15" y1="302.1" x2="447.15" y2="553.4" stroke="#F4F4F4" stroke-width="0.6"/>
<line x1="529.85" y1="302.1" x2="529.85" y2="553.4" stroke="#F4F4F4" stroke-width="0.6"/>
<line x1="240.4" y1="302.1" x2="240.4" y2="553.4" stroke="#ECECEC" stroke-width="1"/>
<line x1="323.1" y1="302.1" x2="323.1" y2="553.4" stroke="#ECECEC" stroke-width="1"/>
<line x1="405.8" y1="302.1" x2="405.8" y2="553.4" stroke="#ECECEC" stroke-width="1"/>
<line x1="488.5" y1="302.1" x2="488.5" y2="553.4" stroke="#ECECEC" stroke-width="1"/>
<line x1="571.2" y1="302.1" x2="571.2" y2="553.4" stroke="#ECECEC" stroke-width="1"/>
<line x1="224.6" y1="309.21" x2="578.5" y2="309.21" stroke="#ECECEC" stroke-width="1"/>
<line x1="224.6" y1="321.07" x2="578.5" y2="321.07" stroke="#ECECEC" stroke-width="1"/>
<line x1="224.6" y1="332.92" x2="578.5" y2="332.92" stroke="#ECECEC" stroke-width="1"/>
<line x1="224.6" y1="344.77" x2="578.5" y2="344.77" stroke="#ECECEC" stroke-width="1"/>
<line x1="224.6" y1="356.63" x2="578.5" y2="356.63" stroke="#ECECEC" stroke-width="1"/>
<line x1="224.6" y1="368.48" x2="578.5" y2="368.48" stroke="#ECECEC" stroke-width="1"/>
<line x1="224.6" y1="380.33" x2="578.5" y2="380.33" stroke="#ECECEC" stroke-width="1"/>
<line x1="224.6" y1="392.19" x2="578.5" y2="392.19" stroke="#ECECEC" stroke-width="1"/>
<line x1="224.6" y1="404.04" x2="578.5" y2="404.04" stroke="#ECECEC" stroke-width="1"/>
<line x1="224.6" y1="415.9" x2="578.5" y2="415.9" stroke="#ECECEC" stroke-width="1"/>
<line x1="224.6" y1="427.75" x2="578.5" y2="427.75" stroke="#ECECEC" stroke-width="1"/>
<line x1="224.6" y1="439.6" x2="578.5" y2="439.6" stroke="#ECECEC" stroke-width="1"/>
<line x1="224.6" y1="451.46" x2="578.5" y2="451.46" stroke="#ECECEC" stroke-width="1"/>
<line x1="224.6" y1="463.31" x2="578.5" y2="463.31" stroke="#ECECEC" stroke-width="1"/>
<line x1="224.6" y1="475.17" x2="578.5" y2="475.17" stroke="#ECECEC" stroke-width="1"/>
<line x1="224.6" y1="487.02" x2="578.5" y2="487.02" stroke="#ECECEC" stroke-width="1"/>
<line x1="224.6" y1="498.87" x2="578.5" y2="498.87" stroke="#ECECEC" stroke-width="1"/>
<line x1="224.6" y1="510.73" x2="578.5" y2="510.73" stroke="#ECECEC" stroke-width="1"/>
<line x1="224.6" y1="522.58" x2="578.5" y2="522.58" stroke="#ECECEC" stroke-width="1"/>
<line x1="224.6" y1="534.43" x2="578.5" y2="534.43" stroke="#ECECEC" stroke-width="1"/>
<line x1="224.6" y1="546.29" x2="578.5" y2="546.29" stroke="#ECECEC" stroke-width="1"/>
<rect x="240.4" y="303.88" width="154.24" height="10.67" fill="#F8766D"/>
<text x="399.4" y="312.91" font-size="11" font-family='"Liberation Serif", serif' fill="#111">4</text>
<line x1="221.8" y1="309.21" x2="224.6" y2="309.21" stroke="#333" stroke-width="1"/>
<text x="219.5" y="312.61" font-size="8.25" fill="#4D4D4D" text-anchor="end">electron transport chain</text>
<rect x="240.4" y="315.73" width="162.09" height="10.67" fill="#F8766D"/>
<text x="407.6" y="324.77" font-size="11" font-family='"Liberation Serif", serif' fill="#111">4</text>
<line x1="221.8" y1="321.07" x2="224.6" y2="321.07" stroke="#333" stroke-width="1"/>
<text x="219.5" y="324.47" font-size="8.25" fill="#4D4D4D" text-anchor="end">respiratory electron transport chain</text>
<rect x="240.4" y="327.59" width="183.59" height="10.67" fill="#F8766D"/>
<text x="430.1" y="336.62" font-size="11" font-family='"Liberation Serif", serif' fill="#111">5</text>
<line x1="221.8" y1="332.92" x2="224.6" y2="332.92" stroke="#333" stroke-width="1"/>
<text x="219.5" y="336.32" font-size="8.25" fill="#4D4D4D" text-anchor="end">hydrogen ion transmembrane transport</text>
<rect x="240.4" y="339.44" width="92.21" height="10.67" fill="#F8766D"/>
<text x="339.4" y="348.47" font-size="11" font-family='"Liberation Serif", serif' fill="#111">3</text>
<line x1="221.8" y1="344.77" x2="224.6" y2="344.77" stroke="#333" stroke-width="1"/>
<text x="219.5" y="348.17" font-size="8.25" fill="#4D4D4D" text-anchor="end">oxidative phosphorylation</text>
<rect x="240.4" y="351.29" width="118.26" height="10.67" fill="#F8766D"/>
<text x="363.1" y="360.33" font-size="11" font-family='"Liberation Serif", serif' fill="#111">3</text>
<line x1="221.8" y1="356.63" x2="224.6" y2="356.63" stroke="#333" stroke-width="1"/>
<text x="219.5" y="360.03" font-size="8.25" fill="#4D4D4D" text-anchor="end">ATP synthesis coupled electron transport</text>
<rect x="240.4" y="363.15" width="124.88" height="10.67" fill="#F8766D"/>
<text x="370" y="372.18" font-size="11" font-family='"Liberation Serif", serif' fill="#111">3</text>
<line x1="221.8" y1="368.48" x2="224.6" y2="368.48" stroke="#333" stroke-width="1"/>
<text x="219.5" y="371.88" font-size="8.25" fill="#4D4D4D" text-anchor="end">mitochondrial ATP synthesis coupled electron transport</text>
<rect x="240.4" y="375" width="188.97" height="10.67" fill="#619CFF"/>
<text x="435.1" y="384.03" font-size="11" font-family='"Liberation Serif", serif' fill="#111">5</text>
<line x1="221.8" y1="380.33" x2="224.6" y2="380.33" stroke="#333" stroke-width="1"/>
<text x="219.5" y="383.73" font-size="8.25" fill="#4D4D4D" text-anchor="end">hydrogen ion transmembrane transporter activity</text>
<rect x="240.4" y="386.85" width="131.49" height="10.67" fill="#619CFF"/>
<text x="378.3" y="395.89" font-size="11" font-family='"Liberation Serif", serif' fill="#111">3</text>
<line x1="221.8" y1="392.19" x2="224.6" y2="392.19" stroke="#333" stroke-width="1"/>
<text x="219.5" y="395.59" font-size="8.25" fill="#4D4D4D" text-anchor="end">NADH dehydrogenase activity</text>
<rect x="240.4" y="398.71" width="119.5" height="10.67" fill="#619CFF"/>
<text x="364.6" y="407.74" font-size="11" font-family='"Liberation Serif", serif' fill="#111">3</text>
<line x1="221.8" y1="404.04" x2="224.6" y2="404.04" stroke="#333" stroke-width="1"/>
<text x="219.5" y="407.44" font-size="8.25" fill="#4D4D4D" text-anchor="end">oxidoreductase activity, acting on NAD(P)H..</text>
<rect x="240.4" y="410.56" width="136.46" height="10.67" fill="#619CFF"/>
<text x="382.6" y="419.6" font-size="11" font-family='"Liberation Serif", serif' fill="#111">3</text>
<line x1="221.8" y1="415.9" x2="224.6" y2="415.9" stroke="#333" stroke-width="1"/>
<text x="219.5" y="419.3" font-size="8.25" fill="#4D4D4D" text-anchor="end">NADH dehydrogenase (quinone) activity</text>
<rect x="240.4" y="422.42" width="147.21" height="10.67" fill="#00BA38"/>
<text x="392.8" y="431.45" font-size="11" font-family='"Liberation Serif", serif' fill="#111">3</text>
<line x1="221.8" y1="427.75" x2="224.6" y2="427.75" stroke="#333" stroke-width="1"/>
<text x="219.5" y="431.15" font-size="8.25" fill="#4D4D4D" text-anchor="end">cytochrome complex</text>
<rect x="240.4" y="434.27" width="302.68" height="10.67" fill="#00BA38"/>
<text x="549.3" y="443.3" font-size="11" font-family='"Liberation Serif", serif' fill="#111">6</text>
<line x1="221.8" y1="439.6" x2="224.6" y2="439.6" stroke="#333" stroke-width="1"/>
<text x="219.5" y="443" font-size="8.25" fill="#4D4D4D" text-anchor="end">mitochondrial respiratory chain</text>
<rect x="240.4" y="446.12" width="280.77" height="10.67" fill="#00BA38"/>
<text x="528.8" y="455.16" font-size="11" font-family='"Liberation Serif", serif' fill="#111">7</text>
<line x1="221.8" y1="451.46" x2="224.6" y2="451.46" stroke="#333" stroke-width="1"/>
<text x="219.5" y="454.86" font-size="8.25" fill="#4D4D4D" text-anchor="end">mitochondrial protein complex</text>
<rect x="240.4" y="457.98" width="315.91" height="10.67" fill="#00BA38"/>
<text x="563.3" y="467.01" font-size="11" font-family='"Liberation Serif", serif' fill="#111">7</text>
<line x1="221.8" y1="463.31" x2="224.6" y2="463.31" stroke="#333" stroke-width="1"/>
<text x="219.5" y="466.71" font-size="8.25" fill="#4D4D4D" text-anchor="end">inner mitochondrial membrane protein complex</text>
<rect x="240.4" y="469.83" width="280.77" height="10.67" fill="#00BA38"/>
<text x="528.8" y="478.87" font-size="11" font-family='"Liberation Serif", serif' fill="#111">6</text>
<line x1="221.8" y1="475.17" x2="224.6" y2="475.17" stroke="#333" stroke-width="1"/>
<text x="219.5" y="478.57" font-size="8.25" fill="#4D4D4D" text-anchor="end">respiratory chain</text>
<rect x="240.4" y="481.68" width="131.49" height="10.67" fill="#00BA38"/>
<text x="379.3" y="490.72" font-size="11" font-family='"Liberation Serif", serif' fill="#111">4</text>
<line x1="221.8" y1="487.02" x2="224.6" y2="487.02" stroke="#333" stroke-width="1"/>
<text x="219.5" y="490.42" font-size="8.25" fill="#4D4D4D" text-anchor="end">oxidoreductase complex</text>
<rect x="240.4" y="493.54" width="305.99" height="10.67" fill="#00BA38"/>
<text x="553.7" y="502.57" font-size="11" font-family='"Liberation Serif", serif' fill="#111">6</text>
<line x1="221.8" y1="498.87" x2="224.6" y2="498.87" stroke="#333" stroke-width="1"/>
<text x="219.5" y="502.27" font-size="8.25" fill="#4D4D4D" text-anchor="end">respiratory chain complex</text>
<rect x="240.4" y="505.39" width="122.4" height="10.67" fill="#00BA38"/>
<text x="368.8" y="514.43" font-size="11" font-family='"Liberation Serif", serif' fill="#111">3</text>
<line x1="221.8" y1="510.73" x2="224.6" y2="510.73" stroke="#333" stroke-width="1"/>
<text x="219.5" y="514.13" font-size="8.25" fill="#4D4D4D" text-anchor="end">NADH dehydrogenase complex</text>
<rect x="240.4" y="517.25" width="122.4" height="10.67" fill="#00BA38"/>
<text x="368.8" y="526.28" font-size="11" font-family='"Liberation Serif", serif' fill="#111">3</text>
<line x1="221.8" y1="522.58" x2="224.6" y2="522.58" stroke="#333" stroke-width="1"/>
<text x="219.5" y="525.98" font-size="8.25" fill="#4D4D4D" text-anchor="end">respiratory chain complex I</text>
<rect x="240.4" y="529.1" width="122.4" height="10.67" fill="#00BA38"/>
<text x="368.8" y="538.13" font-size="11" font-family='"Liberation Serif", serif' fill="#111">3</text>
<line x1="221.8" y1="534.43" x2="224.6" y2="534.43" stroke="#333" stroke-width="1"/>
<text x="219.5" y="537.83" font-size="8.25" fill="#4D4D4D" text-anchor="end">mitochondrial respiratory chain complex I</text>
<rect x="240.4" y="540.95" width="322.53" height="10.67" fill="#00BA38"/>
<text x="566.3" y="549.99" font-size="11" font-family='"Liberation Serif", serif' fill="#111">8</text>
<line x1="221.8" y1="546.29" x2="224.6" y2="546.29" stroke="#333" stroke-width="1"/>
<text x="219.5" y="549.69" font-size="8.25" fill="#4D4D4D" text-anchor="end">mitochondrial membrane part</text>
<rect x="224.6" y="302.1" width="353.9" height="251.3" fill="none" stroke="#999" stroke-width="1"/>
<line x1="224.6" y1="302.1" x2="224.6" y2="553.4" stroke="#333" stroke-width="1"/>
<line x1="224.6" y1="553.4" x2="578.5" y2="553.4" stroke="#333" stroke-width="1"/>
<line x1="240.4" y1="553.4" x2="240.4" y2="556.2" stroke="#333" stroke-width="1"/>
<text x="240.4" y="563.8" font-size="7" fill="#4D4D4D" text-anchor="middle">0</text>
<line x1="323.1" y1="553.4" x2="323.1" y2="556.2" stroke="#333" stroke-width="1"/>
<text x="323.1" y="563.8" font-size="7" fill="#4D4D4D" text-anchor="middle">2</text>
<line x1="405.8" y1="553.4" x2="405.8" y2="556.2" stroke="#333" stroke-width="1"/>
<text x="405.8" y="563.8" font-size="7" fill="#4D4D4D" text-anchor="middle">4</text>
<line x1="488.5" y1="553.4" x2="488.5" y2="556.2" stroke="#333" stroke-width="1"/>
<text x="488.5" y="563.8" font-size="7" fill="#4D4D4D" text-anchor="middle">6</text>
<line x1="571.2" y1="553.4" x2="571.2" y2="556.2" stroke="#333" stroke-width="1"/>
<text x="571.2" y="563.8" font-size="7" fill="#4D4D4D" text-anchor="middle">8</text>
<text x="401.5" y="576.3" font-size="10" fill="#111" text-anchor="middle">−log10(Padj)</text>
<text transform="translate(12.8 427.5) rotate(-90)" font-size="10" fill="#111" text-anchor="middle">GOterm</text>
<text x="594.9" y="406.7" font-size="10" fill="#111">Ontology</text>
<rect x="594.9" y="411.4" width="14.9" height="13.2" fill="#F8766D"/>
<text x="612.7" y="421.5" font-size="8.3" fill="#111">Biological process</text>
<rect x="594.9" y="426.7" width="14.9" height="13.2" fill="#619CFF"/>
<text x="612.7" y="436.8" font-size="8.3" fill="#111">Molecular function</text>
<rect x="594.9" y="442" width="14.9" height="13.2" fill="#00BA38"/>
<text x="612.7" y="452.1" font-size="8.3" fill="#111">Cellular component</text>
<text x="1" y="14.6" font-size="29" font-family='"Liberation Serif", serif' fill="#000" stroke="#000" stroke-width="0.5">a</text>
<text x="0.5" y="309.7" font-size="29" font-family='"Liberation Serif", serif' fill="#000" stroke="#000" stroke-width="0.5">b</text>
<path fill="#000" d="M400.6 11.0C399.6 14.0 397.8 15.8 395.0 15.8C391.8 15.8 389.6 13.0 389.6 9.2C389.6 5.0 392.2 2.0 395.6 2.0C398.0 2.0 400.0 3.2 400.0 4.8C400.0 5.8 399.3 6.4 398.4 6.4C397.5 6.4 397.0 5.8 396.9 5.0C396.8 3.8 396.5 2.9 395.2 2.9C393.4 2.9 392.6 5.2 392.6 8.2C392.6 12.0 394.3 14.2 396.6 14.2C398.2 14.2 399.3 13.0 400.1 10.7Z"/>
</svg>
</body></html>
